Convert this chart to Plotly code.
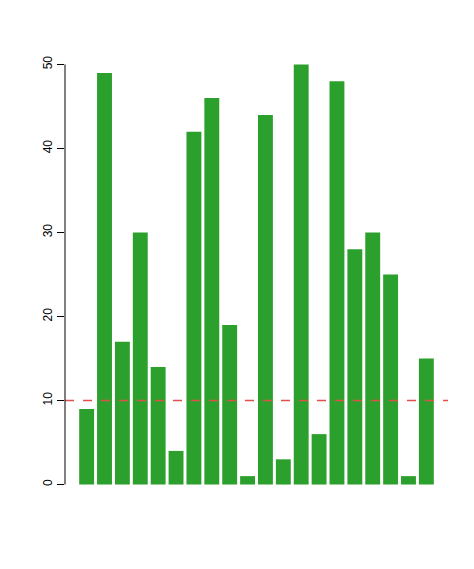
import plotly.graph_objects as go

values = [9, 49, 17, 30, 14, 4, 42, 46, 19, 1, 44, 3, 50, 6, 48, 28, 30, 25, 1, 15]
y_ticks = [0, 10, 20, 30, 40, 50]
threshold = 10

centers = [0.7 + 1.2 * i for i in range(len(values))]

fig = go.Figure()
fig.add_trace(go.Bar(x=centers, y=values, width=1.0, marker=dict(color="#2ca02c", line=dict(width=0)),
                     hoverinfo="skip"))
fig.add_shape(type="line", xref="paper", x0=0, x1=1, y0=threshold, y1=threshold,
              line=dict(color="#e0504a", width=1.3, dash="dash"))
fig.add_shape(type="line", xref="paper", x0=0, x1=0, y0=0, y1=50,
              line=dict(color="black", width=1))
fig.update_layout(
    width=474, height=569, plot_bgcolor="white", paper_bgcolor="white",
    margin=dict(l=57, r=34, t=39, b=75, autoexpand=False), showlegend=False,
    xaxis=dict(range=[-0.752, 24.952], visible=False),
    yaxis=dict(range=[-2.08, 52.08], tickvals=y_ticks, ticks="outside", ticklen=7,
               tickcolor="black", tickangle=-90, showgrid=False, zeroline=False,
               showline=False, tickfont=dict(family="Liberation Sans", size=12, color="black")),
)
fig.write_html("out.html")
